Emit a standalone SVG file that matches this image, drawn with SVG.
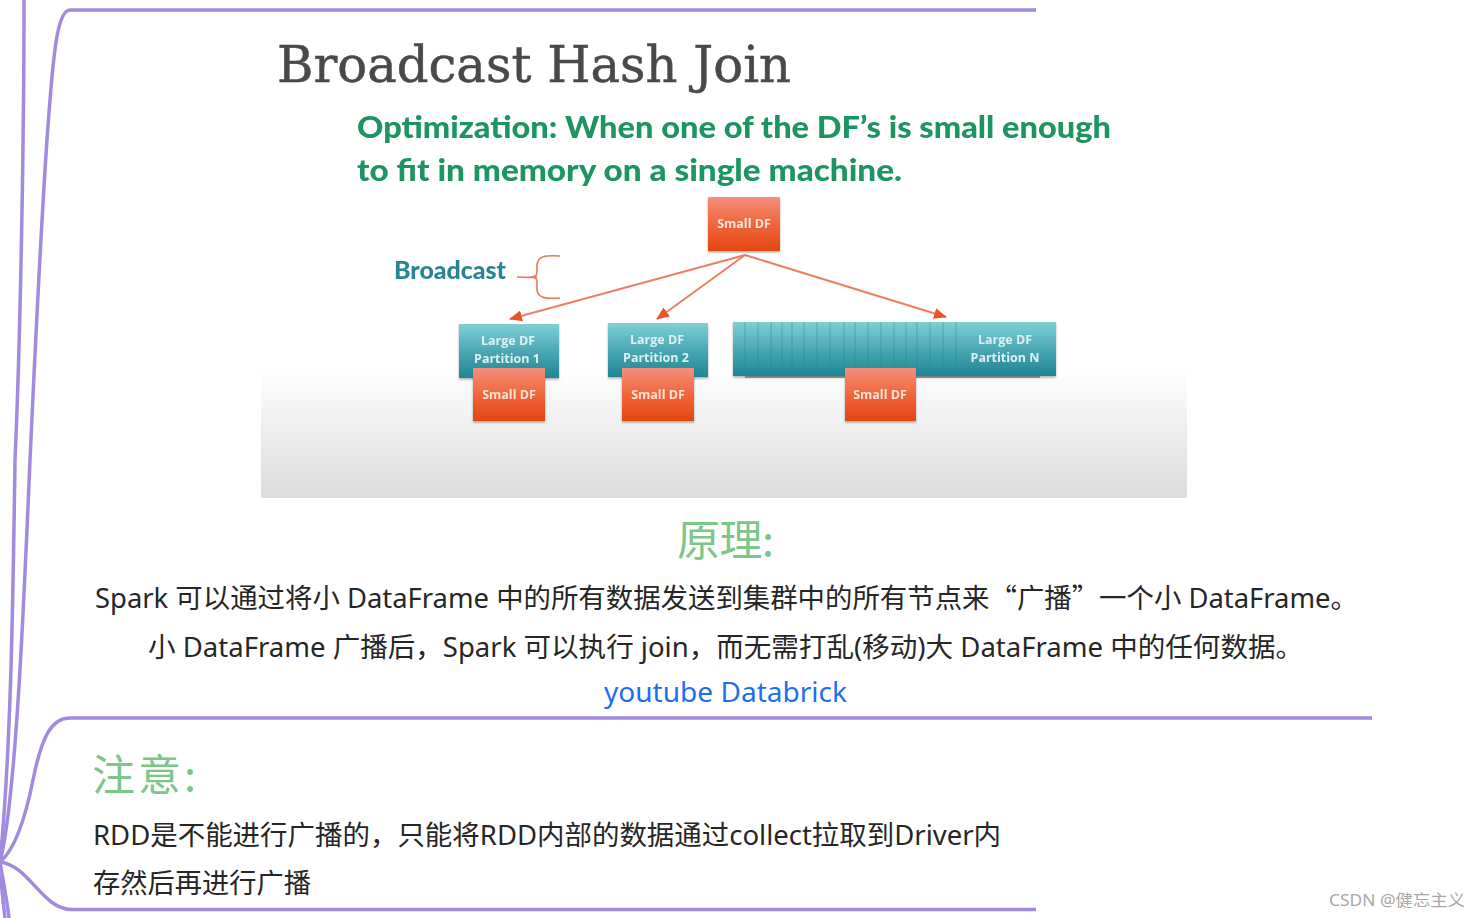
<svg xmlns="http://www.w3.org/2000/svg" width="1481" height="918" viewBox="0 0 1481 918">
<style>
.branch{fill:none;stroke:#a28ae0;stroke-width:3.5}
.cjk{font-family:"Noto Sans","Noto Sans CJK SC",sans-serif;fill:#262626;font-size:27.2px}
.q{font-family:"Noto Sans CJK SC",sans-serif}
.head{font-family:"Noto Sans CJK SC","Noto Sans",sans-serif;fill:#7cc68a;font-size:43px}
.green{font-family:"Lato","Open Sans",sans-serif;font-weight:900;fill:#1c9560;font-size:31px}
.w{font-family:"Open Sans","Noto Sans",sans-serif;font-weight:700;fill:#f8e2d8;font-size:12.5px;text-anchor:middle}
.t{font-family:"Open Sans","Noto Sans",sans-serif;font-weight:700;fill:#dff0f1;font-size:12.5px;text-anchor:middle}
.o{fill:url(#org);filter:url(#sh)}
.b{fill:url(#teal);filter:url(#sh)}
.a{fill:none;stroke:#ec7f60;stroke-width:2;marker-end:url(#ah)}
.sl{stroke:#1f8595;stroke-width:1;opacity:.45}
.soft{filter:url(#soft)}
</style>
<defs>
<linearGradient id="org" x1="0" y1="0" x2="0" y2="1"><stop offset="0" stop-color="#f58f7c"/><stop offset=".5" stop-color="#f0663c"/><stop offset="1" stop-color="#e2470f"/></linearGradient>
<linearGradient id="teal" x1="0" y1="0" x2="0" y2="1"><stop offset="0" stop-color="#7fcfd6"/><stop offset=".55" stop-color="#46a5b0"/><stop offset="1" stop-color="#1f8595"/></linearGradient>
<linearGradient id="bg" x1="0" y1="0" x2="0" y2="1"><stop offset="0" stop-color="#ffffff"/><stop offset="1" stop-color="#dcdcdc"/></linearGradient>
<filter id="sh" x="-10%" y="-10%" width="120%" height="125%"><feDropShadow dx="0" dy="1.5" stdDeviation="1.2" flood-color="#555" flood-opacity=".5"/></filter>
<filter id="soft" x="-5%" y="-20%" width="110%" height="140%"><feGaussianBlur stdDeviation="0.45"/></filter>
<marker id="ah" markerWidth="13" markerHeight="11" refX="12" refY="5.5" orient="auto" markerUnits="userSpaceOnUse"><path d="M0 0L13 5.5L0 11Z" fill="#e9562a"/></marker>
</defs>
<rect width="1481" height="918" fill="#fff"/>
<g id="connectors">
<path class="branch" d="M1036 10H70C58 10 54 50 50 100C44 170 36 330 30 460C24 600 16 800 0 862"/>
<path class="branch" d="M24 0C24 150 20 350 15 460C13 600 11 750 0 862"/>
<path class="branch" d="M1372 718H70C52 718 42 735 33 780C24 825 12 852 0 862"/>
<path class="branch" d="M1036 909.5H72C42 909.500 30 866 0 862"/>
<path class="branch" d="M0 862C3 880 7 900 9 918"/>
<path class="branch" d="M0 866C1 885 3 900 5 918"/>
</g>
<g id="slide">
<rect x="261" y="367" width="926" height="131" fill="url(#bg)"/>
<text class="soft" x="277" y="82" font-family="'DejaVu Serif',serif" font-size="50" fill="#4a4a4a" stroke="#4a4a4a" stroke-width=".5" textLength="514" lengthAdjust="spacingAndGlyphs">Broadcast Hash Join</text>
<text class="green soft" x="357" y="138" textLength="754" lengthAdjust="spacingAndGlyphs">Optimization: When one of the DF’s is small enough</text>
<text class="green soft" x="357" y="181" textLength="545" lengthAdjust="spacingAndGlyphs">to fit in memory on a single machine.</text>
</g>
<g id="broadcast-label" class="soft">
<text x="394" y="279" font-family="'Lato','Open Sans',sans-serif" font-weight="900" font-size="24" fill="#2a8593" textLength="112" lengthAdjust="spacingAndGlyphs">Broadcast</text>
<path d="M517 277C525 277 531 278 537 277M560 256C545 255 538 256 537 265V272C537 275 535 277 531 277M560 298C545 299 538 298 537 290V282C537 279 535 277 531 277" fill="none" stroke="#e8785a" stroke-width="1.6"/>
</g>
<g id="arrows" class="soft">
<path class="a" d="M745 255L510 319"/>
<path class="a" d="M745 255L657 319"/>
<path class="a" d="M745 255L946 317"/>
</g>
<g id="small-df-top"><rect class="o" x="708" y="197" width="72" height="54"/><text class="w soft" x="744" y="228">Small DF</text></g>
<g id="large-1"><rect class="b" x="459" y="324" width="100" height="54"/><text class="t soft" x="508" y="345">Large DF</text><text class="t soft" x="507" y="363">Partition 1</text></g>
<g id="small-1"><rect class="o" x="473" y="368" width="72" height="53"/><text class="w soft" x="509" y="399">Small DF</text></g>
<g id="large-2"><rect class="b" x="608" y="323" width="100" height="54"/><text class="t soft" x="657" y="344">Large DF</text><text class="t soft" x="656" y="362">Partition 2</text></g>
<g id="small-2"><rect class="o" x="622" y="368" width="72" height="53"/><text class="w soft" x="658" y="399">Small DF</text></g>
<g id="large-n"><rect class="b" x="733" y="322" width="323" height="54"/>
<path d="M745 377H1040" stroke="#333" stroke-width="1.5" opacity=".6"/>
<path class="sl" d="M745 322V376M758 322V376M771 322V376M782 322V376M792 322V376M804 322V376M817 322V376M830 322V376M844 322V376M855 322V376M868 322V376M881 322V376M894 322V376M906 322V376M917 322V376M930 322V376M943 322V376M956 322V376"/>
<text class="t soft" x="1005" y="344">Large DF</text><text class="t soft" x="1005" y="362">Partition N</text></g>
<g id="small-n"><rect class="o" x="845" y="368" width="71" height="53"/><text class="w soft" x="880" y="399">Small DF</text></g>
<g id="principle">
<text class="head" x="677" y="556" textLength="97">原理:</text>
<text class="cjk" x="95" y="608" textLength="1263" lengthAdjust="spacingAndGlyphs">Spark 可以通过将小 DataFrame 中的所有数据发送到集群中的所有节点来<tspan class="q">“</tspan>广播<tspan class="q">”</tspan>一个小 DataFrame。</text>
<text class="cjk" x="148" y="657" textLength="1155" lengthAdjust="spacingAndGlyphs">小 DataFrame 广播后，Spark 可以执行 join，而无需打乱(移动)大 DataFrame 中的任何数据。</text>
<text class="cjk" x="604" y="702" style="fill:#1f6ef0" textLength="243" lengthAdjust="spacingAndGlyphs">youtube Databrick</text>
</g>
<g id="note">
<text class="head" x="92" y="791" textLength="104">注意:</text>
<text class="cjk" x="93" y="845" textLength="908" lengthAdjust="spacingAndGlyphs">RDD是不能进行广播的，只能将RDD内部的数据通过collect拉取到Driver内</text>
<text class="cjk" x="93" y="893" textLength="218" lengthAdjust="spacingAndGlyphs">存然后再进行广播</text>
</g>
<text x="1329" y="906" font-family="'Noto Sans','Noto Sans CJK SC',sans-serif" font-size="16" fill="#a8a8a8" textLength="136" lengthAdjust="spacingAndGlyphs">CSDN @健忘主义</text>
</svg>
